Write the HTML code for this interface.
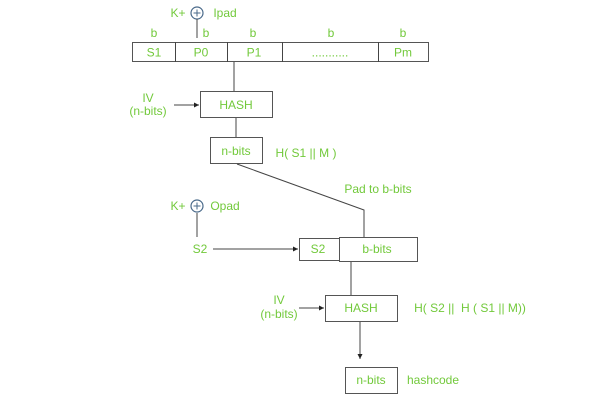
<!DOCTYPE html>
<html><head><meta charset="utf-8"><style>
html,body{margin:0;padding:0;background:#fff;}
svg{display:block;}
text{font-family:"Liberation Sans",sans-serif;font-size:12px;fill:#72c93b;text-anchor:middle;}
.b{fill:none;stroke:#555;stroke-width:1;}
.l{stroke:#444;stroke-width:1;fill:none;}
</style></head><body>
<svg width="606" height="403" viewBox="0 0 606 403">
<defs><marker id="a" markerWidth="6" markerHeight="6" refX="5" refY="3" orient="auto"><path d="M0,0.5 L5,3 L0,5.5z" fill="#222"/></marker></defs>
<text x="178" y="17">K+</text>
<circle cx="197" cy="13" r="6" fill="none" stroke="#4a6a8a" stroke-width="1.2"/>
<line x1="193.5" y1="13" x2="200.5" y2="13" stroke="#4a6a8a"/><line x1="197" y1="9.5" x2="197" y2="16.5" stroke="#4a6a8a"/>
<text x="225" y="17">Ipad</text>
<line class="l" x1="197" y1="19" x2="197" y2="38"/>
<text x="154" y="37">b</text><text x="206" y="37">b</text><text x="253" y="37">b</text><text x="331" y="37">b</text><text x="403" y="37">b</text>
<rect class="b" x="132.5" y="42.5" width="296" height="19"/>
<line class="l" x1="175.5" y1="42" x2="175.5" y2="62"/>
<line class="l" x1="227.5" y1="42" x2="227.5" y2="62"/>
<line class="l" x1="282.5" y1="42" x2="282.5" y2="62"/>
<line class="l" x1="378.5" y1="42" x2="378.5" y2="62"/>
<text x="154" y="56.5">S1</text><text x="201" y="56.5">P0</text><text x="254" y="56.5">P1</text><text x="330" y="56.5">...........</text><text x="403" y="56.5">Pm</text>
<line class="l" x1="234" y1="62" x2="234" y2="91"/>
<rect class="b" x="200.5" y="91.5" width="72" height="26"/>
<text x="236" y="109">HASH</text>
<text x="148" y="102">IV</text><text x="148" y="115">(n-bits)</text>
<line class="l" x1="174" y1="105" x2="199" y2="105" marker-end="url(#a)"/>
<line class="l" x1="236" y1="118" x2="236" y2="137"/>
<rect class="b" x="210.5" y="137.5" width="52" height="26"/>
<text x="236" y="155">n-bits</text>
<text x="306" y="157">H( S1 || M )</text>
<polyline class="l" points="237,164 364,210 364,237"/>
<text x="378" y="193">Pad to b-bits</text>
<text x="178" y="210">K+</text>
<circle cx="197" cy="206" r="6" fill="none" stroke="#4a6a8a" stroke-width="1.2"/>
<line x1="193.5" y1="206" x2="200.5" y2="206" stroke="#4a6a8a"/><line x1="197" y1="202.5" x2="197" y2="209.5" stroke="#4a6a8a"/>
<text x="225" y="210">Opad</text>
<line class="l" x1="197" y1="213" x2="197" y2="237"/>
<text x="200" y="253">S2</text>
<line class="l" x1="213" y1="249" x2="298" y2="249" marker-end="url(#a)"/>
<rect class="b" x="299.5" y="238.5" width="40" height="22"/>
<text x="318" y="253">S2</text>
<rect class="b" x="339.5" y="237.5" width="78" height="24"/>
<text x="377" y="253">b-bits</text>
<line class="l" x1="351" y1="262" x2="351" y2="295"/>
<rect class="b" x="325.5" y="295.5" width="72" height="26"/>
<text x="361" y="312">HASH</text>
<text x="279" y="304">IV</text><text x="279" y="318">(n-bits)</text>
<line class="l" x1="299" y1="308" x2="324" y2="308" marker-end="url(#a)"/>
<text x="470" y="312">H( S2 ||&#160; H ( S1 || M))</text>
<line class="l" x1="360" y1="322" x2="360" y2="359" marker-end="url(#a)"/>
<rect class="b" x="345.5" y="367.5" width="52" height="26"/>
<text x="371" y="384">n-bits</text>
<text x="433" y="384">hashcode</text>
</svg>
</body></html>
